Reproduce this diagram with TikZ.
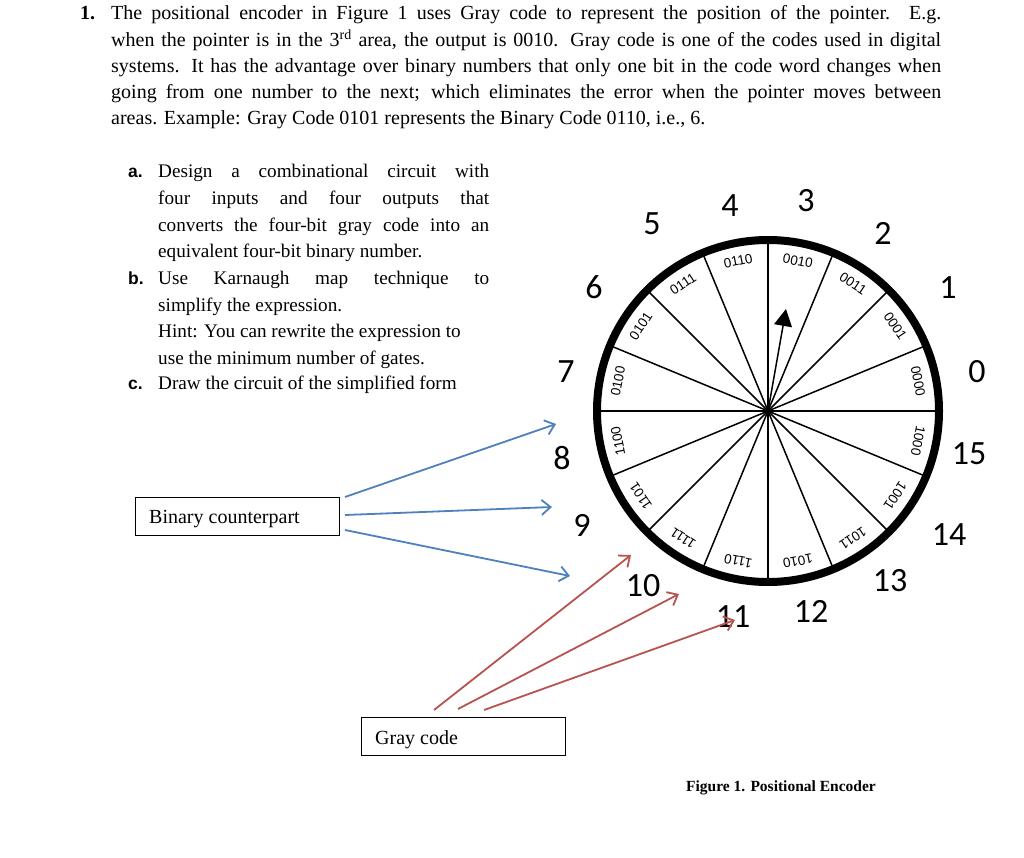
\documentclass[tikz,border=0pt]{standalone}
\usepackage{fontspec}
\setmainfont{Liberation Serif}
\newfontfamily\armfont{Liberation Sans}
\newfontfamily\numfont{Carlito}
\usetikzlibrary{arrows.meta}
\definecolor{bluearrow}{HTML}{4F81BD}
\definecolor{redarrow}{HTML}{B8544F}
\newcommand{\jline}[2]{\hbox to #1pt{#2}}
\tikzset{
 x=1pt,y=-1pt,
 body/.style={anchor=base west,inner sep=0pt,font=\fontsize{20}{24}\selectfont},
 bodyb/.style={anchor=base west,inner sep=0pt,font=\fontsize{19.2}{24}\selectfont},
 marker/.style={anchor=base west,inner sep=0pt,font=\armfont\bfseries\fontsize{17.5}{20}\selectfont},
 num/.style={inner sep=0pt,font=\numfont\fontsize{34}{36}\selectfont},
 code/.style={inner sep=0pt,font=\armfont\fontsize{13.5}{15}\selectfont},
 spoke/.style={line width=1.5pt,black},
 ring/.style={draw=black,line width=8pt},
 barrow/.style={bluearrow,line width=1.8pt,-{Straight Barb[length=9pt,width=15pt,line width=1.8pt]}},
 rarrow/.style={redarrow,line width=1.8pt,-{Straight Barb[length=9pt,width=15pt,line width=1.8pt]}},
 pointer/.style={line width=1.5pt,black,-{Triangle[length=17pt,width=18pt]}},
 labelbox/.style={draw=black,line width=1pt,minimum width=204pt,minimum height=38pt,inner sep=0pt,anchor=north west},
}
\begin{document}
\begin{tikzpicture}
\fill[white] (0,0) rectangle (1024,858);
\useasboundingbox (0,0) rectangle (1024,858);
% question text
\node[body,font=\bfseries\fontsize{20}{24}\selectfont] (qnum) at (80,20) {1.};
\node[body] (l1) at (111,20) {\jline{830}{The positional encoder in Figure 1 uses Gray code to represent the position of the pointer. E.g.}};
\node[body] (l2) at (111,47) {\jline{830}{when the pointer is in the 3\textsuperscript{rd} area, the output is 0010. Gray code is one of the codes used in digital}};
\node[body] (l3) at (111,73) {\jline{830}{systems. It has the advantage over binary numbers that only one bit in the code word changes when}};
\node[body] (l4) at (111,99) {\jline{830}{going from one number to the next; which eliminates the error when the pointer moves between}};
\node[body] (l5) at (111,125) {areas. Example: Gray Code 0101 represents the Binary Code 0110, i.e., 6.};
% sub-questions
\node[marker] (ma) at (128,178) {a.};
\node[bodyb] (a1) at (158,178) {\jline{331}{Design a combinational circuit with}};
\node[bodyb] (a2) at (158,205) {\jline{331}{four inputs and four outputs that}};
\node[bodyb] (a3) at (158,232) {\jline{331}{converts the four-bit gray code into an}};
\node[bodyb] (a4) at (158,258) {equivalent four-bit binary number.};
\node[marker] (mb) at (128,284) {b.};
\node[bodyb] (b1) at (158,284) {\jline{331}{Use Karnaugh map technique to}};
\node[bodyb] (b2) at (158,311) {simplify the expression.};
\node[bodyb] (b3) at (158,337) {Hint: You can rewrite the expression to};
\node[bodyb] (b4) at (158,364) {use the minimum number of gates.};
\node[marker] (mc) at (128,389) {c.};
\node[bodyb] (c1) at (158,389) {Draw the circuit of the simplified form};
% encoder wheel
\coordinate (ctr) at (768,411);
\foreach \i in {0,...,15}{
  \pgfmathsetmacro{\ang}{22.5*\i}
  \coordinate (sp\i) at ({768+170*cos(\ang)},{411-170*sin(\ang)});
  \draw[spoke] (ctr) -- (sp\i);
}
\draw[ring] (ctr) circle[radius=171pt];
\foreach \i/\c in {0/0000,1/0001,2/0011,3/0010,4/0110,5/0111,6/0101,7/0100,8/1100,9/1101,10/1111,11/1110,12/1010,13/1011,14/1001,15/1000}{
  \pgfmathsetmacro{\ang}{22.5*\i+11.25}
  \pgfmathsetmacro{\rot}{\ang-90}
  \node[code,rotate=\rot] (code\i) at ({768+153*cos(\ang)},{411-153*sin(\ang)}) {\c};
}
\coordinate (tip) at (786,309);
\draw[pointer] (ctr) -- (tip);
% position numbers
\foreach \i/\px/\py in {0/977/372,1/948/288,2/883/233,3/806/201,4/730/206,5/652/224,6/594/287,7/566/372,8/562/458,9/582/525,10/643/586,11/733/617,12/811/611,13/890/581,14/949/535,15/969/454}{
  \node[num] (pos\i) at (\px,\py) {\i};
}
% boxes
\node[labelbox] (bin) at (135,497) {};
\node[body,font=\fontsize{20}{24}\selectfont] (bintext) at (149,523) {Binary counterpart};
\node[labelbox] (gray) at (361,717) {};
\node[body,font=\fontsize{20}{24}\selectfont] (graytext) at (375,744) {Gray code};
\node[body,font=\bfseries\fontsize{15.5}{18}\selectfont] (cap) at (686,791) {Figure 1. Positional Encoder};
% arrows
\coordinate (bs1) at (345,497); \coordinate (be1) at (556,424);
\coordinate (bs2) at (345,515); \coordinate (be2) at (552,507);
\coordinate (bs3) at (345,530); \coordinate (be3) at (570,576);
\draw[barrow] (bs1) -- (be1);
\draw[barrow] (bs2) -- (be2);
\draw[barrow] (bs3) -- (be3);
\coordinate (rs1) at (434,710); \coordinate (re1) at (631,555);
\coordinate (rs2) at (458,709); \coordinate (re2) at (679,594);
\coordinate (rs3) at (484,710); \coordinate (re3) at (735,620);
\draw[rarrow] (rs1) -- (re1);
\draw[rarrow] (rs2) -- (re2);
\draw[rarrow] (rs3) -- (re3);
\end{tikzpicture}
\end{document}
